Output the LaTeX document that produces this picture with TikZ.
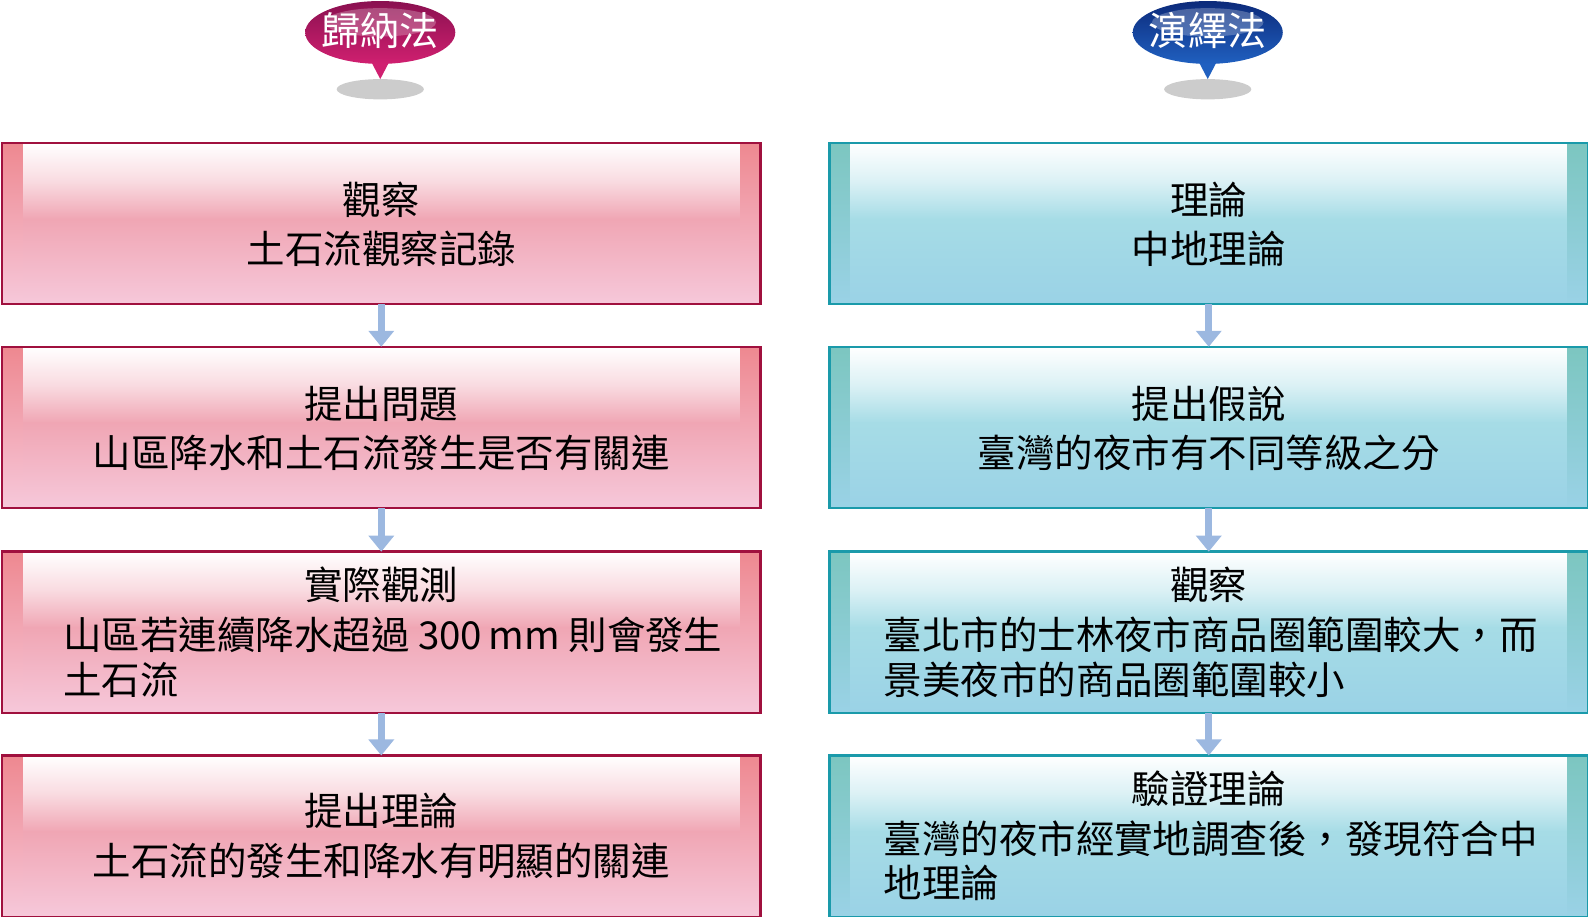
\documentclass[tikz,border=0pt]{standalone}
\usepackage{fontspec}
\setmainfont{Noto Sans CJK TC}
\usetikzlibrary{arrows.meta}
\begin{document}
\begin{tikzpicture}[x=0.02cm,y=-0.02cm,
 txt/.style={font=\fontsize{21.6}{27}\selectfont,align=center,inner sep=0},
]
\useasboundingbox (0,0) rectangle (1566,904);
\definecolor{redB}{HTML}{A0103E}\definecolor{pinkM}{HTML}{F0A6B4}\definecolor{pinkL}{HTML}{F6C8DA}\definecolor{pinkS}{HTML}{EE8890}
\definecolor{tealB}{HTML}{1A9AAA}\definecolor{cyM}{HTML}{A6DCE6}\definecolor{cyL}{HTML}{9AD2E6}\definecolor{cyS}{HTML}{7CC6C0}
\definecolor{arrc}{HTML}{9CB8E0}
\newcommand{\mybox}[4]{%
 \ifnum#3=1
  \shade[top color=white,bottom color=pinkM,middle color=pinkM!40] (#1,#2) rectangle ++(748,75);
  \shade[top color=pinkM,bottom color=pinkL] (#1,#2+75) rectangle ++(748,84);
  \shade[top color=pinkS,bottom color=pinkL] (#1,#2) rectangle ++(20,159);
  \shade[top color=pinkS,bottom color=pinkL] (#1+728,#2) rectangle ++(20,159);
  \draw[redB,line width=1.3pt] (#1,#2) rectangle ++(748,159);
 \else
  \shade[top color=white,bottom color=cyM,middle color=cyM!40] (#1,#2) rectangle ++(748,75);
  \shade[top color=cyM,bottom color=cyL] (#1,#2+75) rectangle ++(748,84);
  \shade[top color=cyS,bottom color=cyL] (#1,#2) rectangle ++(20,159);
  \shade[top color=cyS,bottom color=cyL] (#1+728,#2) rectangle ++(20,159);
  \draw[tealB,line width=1.3pt] (#1,#2) rectangle ++(748,159);
 \fi
 \coordinate (#4t) at (#1+374,#2);\coordinate (#4b) at (#1+374,#2+159);}
\mybox{2}{141}{1}{L1}\mybox{2}{342}{1}{L2}\mybox{2}{544}{1}{L3}\mybox{2}{745}{1}{L4}
\mybox{818}{141}{2}{R1}\mybox{818}{342}{2}{R2}\mybox{818}{544}{2}{R3}\mybox{818}{745}{2}{R4}
\foreach \a/\b in {L1/L2,L2/L3,L3/L4,R1/R2,R2/R3,R3/R4}
 \draw[draw=arrc,line width=4pt,-{Triangle[length=9pt,width=14pt]}] (\a b) -- (\b t);
\definecolor{magD}{HTML}{8A1050}\definecolor{magM}{HTML}{D02070}
\definecolor{bluD}{HTML}{0C2A7A}\definecolor{bluM}{HTML}{2060C0}
\foreach \cx/\cd/\cm/\nm/\t in {375/magD/magM/bL/歸納法,1191/bluD/bluM/bR/演繹法}{
 \fill[gray!40] (\cx,88) ellipse (43 and 10);
 \fill[\cm] (\cx-12,55) -- (\cx+12,55) -- (\cx,78) -- cycle;
 \shade[top color=\cd,bottom color=\cm] (\cx,32) ellipse (74 and 31);
 \fill[white,opacity=0.25] (\cx,22) ellipse (55 and 14);
 \node[txt,white,font=\fontsize{22}{24}\selectfont] (\nm) at (\cx,30) {\t};
}
\node[txt] (l1a) at (376,197) {觀察};
\node[txt] (l1b) at (376,245) {土石流觀察記錄};
\node[txt] (l2a) at (376,398) {提出問題};
\node[txt] (l2b) at (376,447) {山區降水和土石流發生是否有關連};
\node[txt] (l3a) at (376,577) {實際觀測};
\node[txt,anchor=west,align=left] (l3b) at (62,648) {山區若連續降水超過 300\,mm 則會發生\\[-2pt]土石流};
\node[txt] (l4a) at (376,800) {提出理論};
\node[txt] (l4b) at (376,849) {土石流的發生和降水有明顯的關連};
\node[txt] (r1a) at (1192,197) {理論};
\node[txt] (r1b) at (1192,245) {中地理論};
\node[txt] (r2a) at (1192,398) {提出假說};
\node[txt] (r2b) at (1192,447) {臺灣的夜市有不同等級之分};
\node[txt] (r3a) at (1192,577) {觀察};
\node[txt,anchor=west,align=left] (r3b) at (871,648) {臺北市的士林夜市商品圈範圍較大，而\\[-2pt]景美夜市的商品圈範圍較小};
\node[txt] (r4a) at (1192,778) {驗證理論};
\node[txt,anchor=west,align=left] (r4b) at (871,849) {臺灣的夜市經實地調查後，發現符合中\\[-2pt]地理論};
\end{tikzpicture}
\end{document}
